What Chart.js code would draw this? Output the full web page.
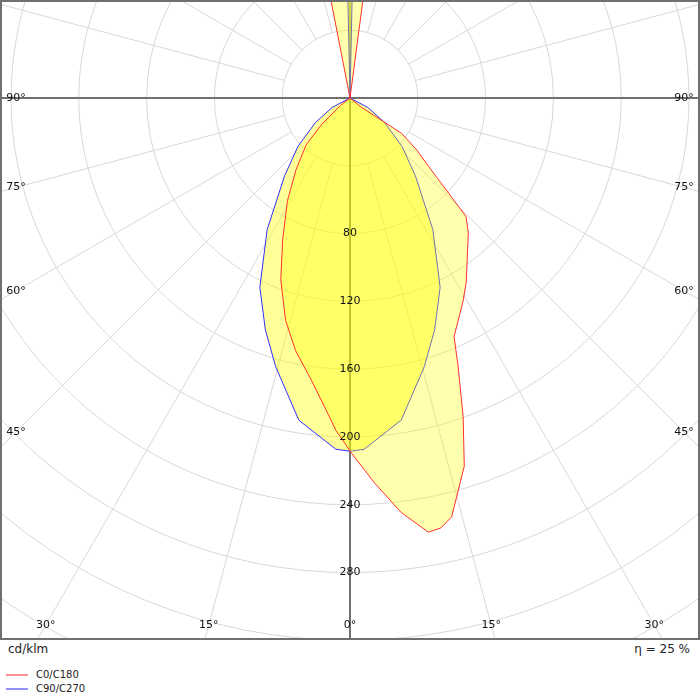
<!DOCTYPE html>
<html><head><meta charset="utf-8">
<script src="https://cdn.jsdelivr.net/npm/chart.js@4"></script>
<style>
body{margin:0;background:#fff;font-family:"DejaVu Sans",sans-serif;}
#wrap{position:relative;width:700px;height:640px;}
#foot{position:relative;width:700px;height:60px;font-size:12px;color:#222;}
.ln{display:inline-block;width:22px;height:2px;vertical-align:middle;margin-right:8px}
</style></head><body>
<div id="wrap"><canvas id="c"></canvas></div>
<div id="foot">
<div style="position:absolute;left:8px;top:2px">cd/klm</div>
<div style="position:absolute;right:10px;top:2px">η = 25 %</div>
<div style="position:absolute;left:6px;top:28px;font-size:10px;line-height:14px">
<div><span class="ln" style="background:#ff9090"></span>C0/C180</div>
<div><span class="ln" style="background:#9090ff"></span>C90/C270</div>
</div></div>
<script>
// polar angle (deg, 0 = down, + = right / C0 or C90 side), intensity cd/klm, in drawing order
const redAngles = [0,3.6,7,10.2,11.9,13.6,17.2,19.5,21.9,23.5,29.2,32.1,41.2,44.3,45.6,48.4,52,55.5,50.7,70,172,172.5,180,-180,-169,-168,-70,-52,-47,-43,-36.9,-31.3,-25.3,-20.8,-16.1,-12.1,-7.9,-4.4,-2.4,-0.7,0];
const redValues = [209,228,247,261,260,255,228,200,171,154,137,129,106,98,84,64,50,37,8,0,0,150,150,150,150,0,0,7,23,38,53,71,93,115,137,153,168,185,197,205,209];
const blueAngles = [0,2.3,9,15.4,20,25.4,32.1,40,47,54.6,62,75,178,178.8,180,-180,-178.8,-178,-75,-62,-54.6,-47,-40,-32.1,-25.4,-20,-15.4,-9,-2.3,0];
const blueValues = [209,208,193,165,146,124,92,60,42,25,12,0,0,150,150,150,150,0,0,12,25,42,60,92,124,146,165,193,208,209];
const ringLabels = [80,120,160,200,240,280];
const sideAngleLabels = [90,75,60,45];
const bottomAngleLabels = [-30,-15,0,15,30];

function toXY(a, r){ return a.map((g,i)=>({x: r[i]*Math.sin(g*Math.PI/180), y: -r[i]*Math.cos(g*Math.PI/180)})); }

const gridPlugin = {
  id:'polarGrid',
  beforeDatasetsDraw(chart){
    const {ctx, chartArea:ca, scales:{x,y}} = chart;
    const cx = x.getPixelForValue(0), cy = y.getPixelForValue(0);
    const k = x.getPixelForValue(1) - cx;
    ctx.save();
    ctx.beginPath(); ctx.rect(ca.left, ca.top, ca.width, ca.height); ctx.clip();
    ctx.strokeStyle = '#d8d8d8'; ctx.lineWidth = 1;
    for(let r=40;r<=640;r+=40){ ctx.beginPath(); ctx.arc(cx,cy,r*k,0,Math.PI*2); ctx.stroke(); }
    for(let g=0; g<360; g+=15){
      if(g%90===0) continue;
      const s=Math.sin(g*Math.PI/180), c=Math.cos(g*Math.PI/180);
      ctx.beginPath(); ctx.moveTo(cx+40*k*s, cy+40*k*c); ctx.lineTo(cx+900*k*s, cy+900*k*c); ctx.stroke();
    }
    ctx.strokeStyle = '#707070'; ctx.lineWidth = 2;
    ctx.beginPath(); ctx.moveTo(ca.left,cy); ctx.lineTo(ca.right,cy); ctx.stroke();
    ctx.beginPath(); ctx.moveTo(cx,cy); ctx.lineTo(cx,ca.bottom); ctx.stroke();
    ctx.strokeStyle = '#999'; ctx.lineWidth = 2;
    ctx.beginPath(); ctx.moveTo(cx,ca.top); ctx.lineTo(cx,cy); ctx.stroke();
    ctx.restore();
  },
  afterDatasetsDraw(chart){
    const {ctx, chartArea:ca, scales:{x,y}} = chart;
    const cx = x.getPixelForValue(0), cy = y.getPixelForValue(0);
    const k = x.getPixelForValue(1) - cx;
    ctx.save();
    ctx.font = '11px "DejaVu Sans"'; ctx.fillStyle = '#111';
    ctx.textAlign='center'; ctx.textBaseline='middle';
    ringLabels.forEach(v=>ctx.fillText(String(v), cx, cy + v*k));
    sideAngleLabels.forEach(g=>{
      const dx = cx - ca.left - 16;
      const yy = cy + dx / Math.tan(g*Math.PI/180);
      ctx.fillText(g+'°', ca.left+16, yy);
      ctx.fillText(g+'°', ca.right-16, yy);
    });
    bottomAngleLabels.forEach(g=>{
      const yy = ca.bottom - 15;
      const xx = cx + (yy-cy)*Math.tan(g*Math.PI/180);
      ctx.fillText(Math.abs(g)+'°', xx, yy);
    });
    ctx.strokeStyle='#707070'; ctx.lineWidth=2;
    ctx.strokeRect(ca.left+1, ca.top+1, ca.width-2, ca.height-2);
    ctx.restore();
  }
};

new Chart(document.getElementById('c'), {
  type:'scatter',
  data:{datasets:[
    {label:'C0/C180', data: toXY(redAngles, redValues), showLine:true, borderColor:'#ff3030', borderWidth:1, backgroundColor:'rgba(255,255,0,0.32)', fill:'shape', pointRadius:0, tension:0},
    {label:'C90/C270', data: toXY(blueAngles, blueValues), showLine:true, borderColor:'#3030ff', borderWidth:1, backgroundColor:'rgba(255,255,0,0.4)', fill:'shape', pointRadius:0, tension:0}
  ]},
  options:{
    responsive:true, maintainAspectRatio:false, animation:false,
    layout:{padding:0},
    plugins:{legend:{display:false}, tooltip:{enabled:false}},
    scales:{
      x:{type:'linear', min:-206.5, max:206.5, display:false},
      y:{type:'linear', min:-320.7, max:58, display:false}
    }
  },
  plugins:[gridPlugin]
});
</script></body></html>
